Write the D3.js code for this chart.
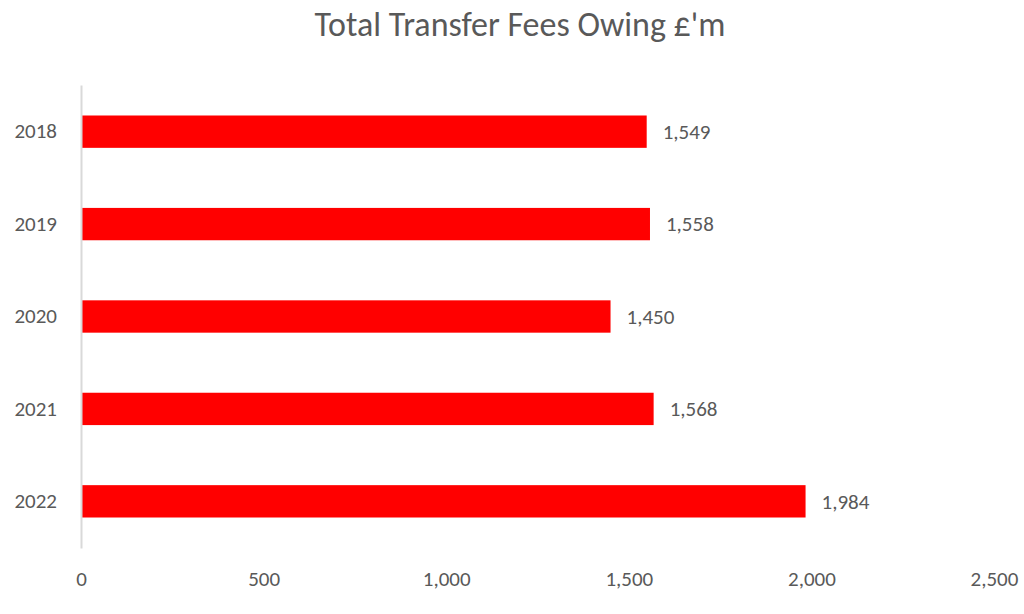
<!DOCTYPE html>
<html>
<head>
<meta charset="utf-8">
<script src="https://cdn.jsdelivr.net/npm/d3@7"></script>
<style>
  body { margin: 0; background: #fff; }
  text { font-family: Calibri, Carlito, "Open Sans", sans-serif; fill: #595959; }
</style>
</head>
<body>
<div id="chart"></div>
<script>
// chart data
const years = ["2018", "2019", "2020", "2021", "2022"];
const fees = [1549, 1558, 1450, 1568, 1984];
const xTicks = [0, 500, 1000, 1500, 2000, 2500];

const width = 1024, height = 614;

const svg = d3.select("#chart")
  .append("svg")
  .attr("width", width)
  .attr("height", height);

// scales
const xScale = d3.scaleLinear()
  .domain([0, 2500])
  .range([81, 994]);

const yScale = d3.scaleBand()
  .domain(years)
  .range([85, 548])
  .paddingInner(0.65)
  .paddingOuter(0.33);

// title
svg.append("text")
  .attr("x", 520)
  .attr("y", 36)
  .attr("text-anchor", "middle")
  .style("font-size", "34px")
  .text("Total Transfer Fees Owing £'m");

// bars
svg.selectAll("rect.bar")
  .data(fees)
  .enter()
  .append("rect")
    .attr("class", "bar")
    .attr("x", xScale(0))
    .attr("y", (d, i) => yScale(years[i]))
    .attr("width", d => xScale(d) - xScale(0))
    .attr("height", yScale.bandwidth())
    .attr("fill", "#ff0000");

// value labels
svg.selectAll("text.val")
  .data(fees)
  .enter()
  .append("text")
    .attr("class", "val")
    .attr("x", d => xScale(d) + 16)
    .attr("y", (d, i) => yScale(years[i]) + yScale.bandwidth() / 2)
    .attr("dy", "0.35em")
    .style("font-size", "21px")
    .text(d => d3.format(",")(d));

// y axis (category labels + light line)
const yAxis = svg.append("g")
  .attr("transform", `translate(${xScale(0)},0)`)
  .call(d3.axisLeft(yScale).tickSize(0).tickPadding(24));
yAxis.select(".domain").attr("stroke", "#d9d9d9").attr("stroke-width", 2);
yAxis.selectAll("text").style("font-size", "21px").attr("fill", "#595959");

// x axis (labels only)
const xAxis = svg.append("g")
  .attr("transform", "translate(0,568)")
  .call(d3.axisBottom(xScale).tickValues(xTicks).tickSize(0).tickFormat(d3.format(",")));
xAxis.select(".domain").remove();
xAxis.selectAll("text").style("font-size", "21px").attr("fill", "#595959");
</script>
</body>
</html>
